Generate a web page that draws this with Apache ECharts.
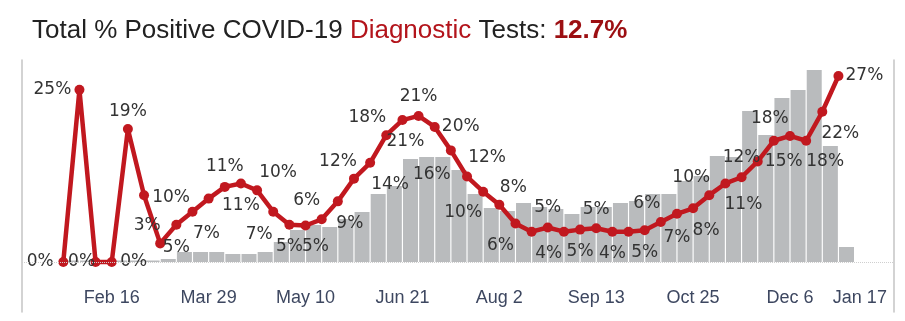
<!DOCTYPE html>
<html><head><meta charset="utf-8">
<script src="https://cdn.jsdelivr.net/npm/echarts@6/dist/echarts.min.js"></script>
<style>html,body{margin:0;padding:0;background:#fff}#c{width:905px;height:321px}</style>
</head><body><div id="c"></div>
<script>
// Week starting dates (categories)
const weeks = ['2020-01-26','2020-02-02','2020-02-09','2020-02-16','2020-02-23','2020-03-01','2020-03-08','2020-03-15','2020-03-22','2020-03-29','2020-04-05','2020-04-12','2020-04-19','2020-04-26','2020-05-03','2020-05-10','2020-05-17','2020-05-24','2020-05-31','2020-06-07','2020-06-14','2020-06-21','2020-06-28','2020-07-05','2020-07-12','2020-07-19','2020-07-26','2020-08-02','2020-08-09','2020-08-16','2020-08-23','2020-08-30','2020-09-06','2020-09-13','2020-09-20','2020-09-27','2020-10-04','2020-10-11','2020-10-18','2020-10-25','2020-11-01','2020-11-08','2020-11-15','2020-11-22','2020-11-29','2020-12-06','2020-12-13','2020-12-20','2020-12-27'];
// % positive per week
const pctPositive = [0,25.0,0,0,19.3,9.7,2.7,5.4,7.3,9.2,10.9,11.4,10.4,7.3,5.4,5.3,6.2,8.8,12.1,14.4,18.4,20.6,21.2,19.6,16.2,12.4,10.2,8.3,5.6,4.4,5.0,4.4,4.7,4.9,4.4,4.4,4.6,5.8,7.0,7.8,9.7,11.4,12.3,14.6,17.6,18.3,17.6,21.8,27.0];
// test volume per week (relative units)
const testVolume = [1.5,1.5,1.5,1.5,1.5,1.5,3,10,10,10,8,8,10,20,32,37,35,43,50,68,76,103,105,105,92,68,54,51,59,55,53,48,55,55,59,61,68,68,81,86,106,105,151,127,164,172,192,116,15];
// axis tick labels
const tickDates = ['2020-02-16','2020-03-29','2020-05-10','2020-06-21','2020-08-02','2020-09-13','2020-10-25','2020-12-06','2021-01-17'];
const tickLabels = ['Feb 16','Mar 29','May 10','Jun 21','Aug 2','Sep 13','Oct 25','Dec 6','Jan 17'];

// label layout (style only): offset of each point label, null = not shown
const labelOffsets = [[-23,0],[-27,0],[-14,0],[22,0],[0,-17],[27,2],[-13,-18],[0,23],[14,22],null,
[0,-20],[0,22],[21,-18],[-14,23],[0,22],[10,21],[-15,-19],[12,22],[-16,-17],[20,22],
[-19,-18],[3,22],[0,-19],[26,0],[-19,24],[20,-19],[-20,21],[14,-17],[-15,22],[17,22],
[0,-20],null,[0,22],[0,-19],[0,22],null,[0,22],[-14,-18],[0,24],[13,22],
[-18,-18],[18,21],[0,-20],[26,0],[-4,-22],null,[19,21],[18,22],[26,0]];

const DAY = 86400000;
const t0 = Date.parse(weeks[0]);
const idxOf = d => Math.round((Date.parse(d) - t0) / (7*DAY));
const tickIdx = tickDates.map(idxOf);
const tickMap = {}; tickIdx.forEach((v,k)=>tickMap[v]=tickLabels[k]);

const RED = '#c1181f';
const lineData = pctPositive.map((v,i)=>{
  const o = labelOffsets[i];
  return {value:[i,v], label: o ? {show:true, offset:o} : {show:false}};
});
const barData = testVolume.map((v,i)=>[i+0.5, v]);

const chart = echarts.init(document.getElementById('c'), null, {renderer:'canvas'});
chart.setOption({
  animation:false,
  title:{
    left:27, top:11,
    text:'{a|Total % Positive COVID-19 }{r|Diagnostic}{a| Tests: }{b|12.7%}',
    textStyle:{
      fontWeight:'normal',
      rich:{
        a:{fontFamily:'Liberation Sans',fontSize:26,fontWeight:'normal',color:'#222',lineHeight:30},
        r:{fontFamily:'Liberation Sans',fontSize:26,fontWeight:'normal',color:'#b3141b',lineHeight:30},
        b:{fontFamily:'Liberation Sans',fontSize:26,fontWeight:'bold',color:'#9c0f12',lineHeight:30}
      }
    }
  },
  grid:{left:22,right:11,top:60,bottom:9},
  xAxis:[{
    type:'value', min:-2.557, max:51.44,
    axisLine:{show:false}, splitLine:{show:false},
    axisTick:{show:false},
    axisLabel:{
      inside:true, margin:5, customValues:tickIdx, alignMaxLabel:'right',
      formatter:v=>tickMap[Math.round(v)]||'',
      fontFamily:'Liberation Sans', fontSize:18, color:'#3d4760'
    }
  }],
  yAxis:[{
    type:'value', min:-7.257, max:29.318,
    axisLine:{show:true,onZero:false,lineStyle:{color:'#c4c4c4',width:1.5}},
    axisLabel:{show:false}, axisTick:{show:false}, splitLine:{show:false}
  },{
    type:'value', min:-50, max:202, position:'right',
    axisLine:{show:true,onZero:false,lineStyle:{color:'#c4c4c4',width:1.5}},
    axisLabel:{show:false}, axisTick:{show:false}, splitLine:{show:false}
  }],
  series:[{
    type:'bar', yAxisIndex:1, data:barData, barWidth:15,
    itemStyle:{color:'#b9bbbd'}, silent:true
  },{
    type:'line', yAxisIndex:0, data:lineData,
    symbol:'circle', symbolSize:10,
    lineStyle:{color:RED,width:4.5}, itemStyle:{color:RED},
    label:{position:'inside', formatter:p=>Math.round(p.value[1])+'%',
      fontFamily:'DejaVu Sans', fontSize:17, color:'#333', align:'center', verticalAlign:'middle'},
    markLine:{silent:true, symbol:['none','none'], label:{show:false},
      lineStyle:{color:'#cfcfcf',type:'dotted',width:1}, data:[{yAxis:0}]},
    z:3
  }]
});
</script></body></html>
